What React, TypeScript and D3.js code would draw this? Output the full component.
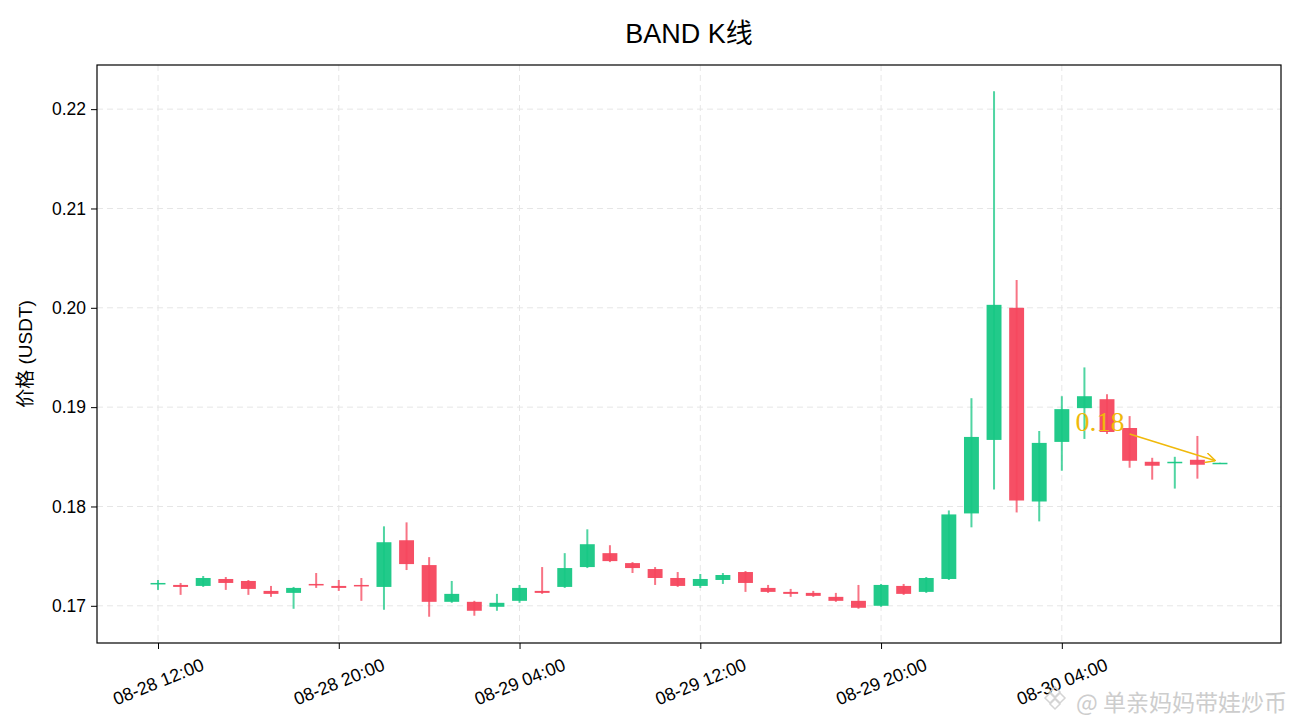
import React, { useRef, useEffect } from 'react';
import * as d3 from 'd3';

// hourly candles, first one at 08-28 12:00
const START = new Date(2024, 7, 28, 12, 0);
const opens = [
    0.1722, 0.1721, 0.1720, 0.1727, 0.1725, 0.1715, 0.1713, 0.1722, 0.1720, 0.1721,
    0.1719, 0.1766, 0.1741, 0.1704, 0.1704, 0.1699, 0.1705, 0.1715, 0.1719, 0.1739,
    0.1753, 0.1743, 0.1737, 0.1728, 0.1720, 0.1726, 0.1734, 0.1718, 0.1714, 0.1713,
    0.1709, 0.1705, 0.1700, 0.1720, 0.1714, 0.1727, 0.1793, 0.1867, 0.2000, 0.1805,
    0.1865, 0.1899, 0.1908, 0.1879, 0.1845, 0.1844, 0.1847, 0.1843,
];
const highs = [
    0.1726, 0.1723, 0.1730, 0.1729, 0.1726, 0.1720, 0.1719, 0.1733, 0.1726, 0.1728,
    0.1780, 0.1784, 0.1749, 0.1725, 0.1705, 0.1712, 0.1721, 0.1739, 0.1753, 0.1777,
    0.1761, 0.1744, 0.1739, 0.1734, 0.1732, 0.1733, 0.1735, 0.1721, 0.1717, 0.1715,
    0.1713, 0.1721, 0.1722, 0.1722, 0.1729, 0.1796, 0.1909, 0.2218, 0.2028, 0.1876,
    0.1911, 0.1940, 0.1913, 0.1891, 0.1849, 0.1850, 0.1871, 0.1844,
];
const lows = [
    0.1716, 0.1711, 0.1719, 0.1716, 0.1711, 0.1709, 0.1697, 0.1718, 0.1715, 0.1705,
    0.1696, 0.1736, 0.1689, 0.1703, 0.1690, 0.1695, 0.1703, 0.1712, 0.1718, 0.1738,
    0.1744, 0.1733, 0.1721, 0.1719, 0.1718, 0.1722, 0.1714, 0.1713, 0.1709, 0.1709,
    0.1704, 0.1697, 0.1699, 0.1711, 0.1713, 0.1726, 0.1779, 0.1817, 0.1794, 0.1785,
    0.1836, 0.1868, 0.1873, 0.1839, 0.1827, 0.1818, 0.1828, 0.1843,
];
const closes = [
    0.1723, 0.1719, 0.1728, 0.1723, 0.1717, 0.1712, 0.1718, 0.1721, 0.1718, 0.1720,
    0.1764, 0.1742, 0.1704, 0.1712, 0.1695, 0.1703, 0.1718, 0.1713, 0.1738, 0.1762,
    0.1745, 0.1738, 0.1728, 0.1720, 0.1727, 0.1731, 0.1723, 0.1714, 0.1712, 0.1710,
    0.1705, 0.1698, 0.1721, 0.1712, 0.1728, 0.1792, 0.1870, 0.2003, 0.1806, 0.1864,
    0.1898, 0.1911, 0.1875, 0.1846, 0.1841, 0.1845, 0.1842, 0.1844,
];
const yTicks = [0.17, 0.18, 0.19, 0.20, 0.21, 0.22];
const xTickHours = [0, 8, 16, 24, 32, 40]; // hours after START

// "0.18" annotation (hours from START, price)
const annText = { h: 40.6, v: 0.1876, label: '0.18' };
const annFrom = { h: 43.0, v: 0.1873 };
const annTo = { h: 46.8, v: 0.1846 };

const UP = '#16c784';
const DOWN = '#f6465d';
const ANN = '#f0b90b';
const FONT = '"Liberation Sans", "Noto Sans CJK SC", sans-serif';

const W = 1300;
const H = 728;

const App: React.FC = () => {
    const svgRef = useRef<SVGSVGElement>(null);

    useEffect(() => {
        if (!svgRef.current) return;
        const svg = d3.select(svgRef.current);
        svg.selectAll('*').remove();

        const margin = { top: 65, right: 19, bottom: 85, left: 97 };
        const iw = W - margin.left - margin.right;
        const ih = H - margin.top - margin.bottom;

        const hr = (h: number) => new Date(START.getTime() + h * 3600e3);
        const data = opens.map((o, i) => ({
            t: hr(i),
            o, h: highs[i], l: lows[i], c: closes[i],
        }));

        const x = d3.scaleTime()
            .domain([hr(-2.7), hr(data.length - 1 + 2.7)])
            .range([0, iw]);
        const lo = d3.min(lows)!, hi = d3.max(highs)!;
        const pad = (hi - lo) * 0.05;
        const y = d3.scaleLinear().domain([lo - pad, hi + pad]).range([ih, 0]);

        const g = svg.append('g').attr('transform', `translate(${margin.left},${margin.top})`);

        const xTicks = xTickHours.map(hr);

        // grid
        g.append('g').selectAll('line').data(yTicks).join('line')
            .attr('x1', 0).attr('x2', iw)
            .attr('y1', d => y(d)).attr('y2', d => y(d))
            .attr('stroke', '#e6e6e6').attr('stroke-dasharray', '6,4');
        g.append('g').selectAll('line').data(xTicks).join('line')
            .attr('y1', 0).attr('y2', ih)
            .attr('x1', d => x(d)).attr('x2', d => x(d))
            .attr('stroke', '#e6e6e6').attr('stroke-dasharray', '6,4');

        // candles
        const bw = (x(hr(1)) - x(hr(0))) * 0.66;
        const cg = g.append('g');
        cg.selectAll('line.wick').data(data).join('line')
            .attr('class', 'wick')
            .attr('x1', d => x(d.t)).attr('x2', d => x(d.t))
            .attr('y1', d => y(d.h)).attr('y2', d => y(d.l))
            .attr('stroke', d => d.c >= d.o ? UP : DOWN)
            .attr('stroke-width', 2)
            .attr('opacity', 0.75);
        cg.selectAll('rect').data(data).join('rect')
            .attr('x', d => x(d.t) - bw / 2)
            .attr('width', bw)
            .attr('y', d => y(Math.max(d.o, d.c)))
            .attr('height', d => Math.max(1.5, Math.abs(y(d.o) - y(d.c))))
            .attr('fill', d => d.c >= d.o ? UP : DOWN)
            .attr('opacity', 0.95);

        // annotation
        const defs = svg.append('defs');
        defs.append('marker')
            .attr('id', 'ann-head')
            .attr('viewBox', '0 0 10 10')
            .attr('refX', 10).attr('refY', 5)
            .attr('markerWidth', 10).attr('markerHeight', 10)
            .attr('markerUnits', 'userSpaceOnUse')
            .attr('orient', 'auto')
            .append('path')
            .attr('d', 'M0,0 L10,5 L0,10')
            .attr('fill', 'none').attr('stroke', ANN).attr('stroke-width', 1.6);
        g.append('line')
            .attr('x1', x(hr(annFrom.h))).attr('y1', y(annFrom.v))
            .attr('x2', x(hr(annTo.h))).attr('y2', y(annTo.v))
            .attr('stroke', ANN).attr('stroke-width', 1.6)
            .attr('marker-end', 'url(#ann-head)');
        g.append('text')
            .attr('x', x(hr(annText.h))).attr('y', y(annText.v))
            .attr('fill', ANN)
            .attr('font-family', '"Liberation Serif", "DejaVu Serif", serif')
            .attr('font-size', 28)
            .text(annText.label);

        // frame
        g.append('rect').attr('width', iw).attr('height', ih)
            .attr('fill', 'none').attr('stroke', '#000').attr('stroke-width', 1.2);

        // y axis
        const ya = g.append('g').call(d3.axisLeft(y).tickValues(yTicks).tickSize(6).tickPadding(5).tickFormat(d3.format('.2f')));
        ya.select('.domain').remove();
        ya.selectAll('text').attr('font-size', 17.5).attr('font-family', FONT).attr('fill', '#000');

        // x axis
        const xa = g.append('g').attr('transform', `translate(0,${ih})`)
            .call(d3.axisBottom(x).tickValues(xTicks).tickSize(6).tickFormat(d => d3.timeFormat('%m-%d %H:%M')(d as Date)));
        xa.select('.domain').remove();
        xa.selectAll('text')
            .attr('font-size', 18).attr('font-family', FONT).attr('fill', '#000')
            .attr('text-anchor', 'middle')
            .attr('dy', null).attr('y', null)
            .attr('dominant-baseline', 'central')
            .attr('transform', 'translate(0,39) rotate(-22)');

        // title and axis label
        svg.append('text')
            .attr('x', margin.left + iw / 2).attr('y', 43)
            .attr('text-anchor', 'middle')
            .attr('font-family', FONT).attr('font-size', 27)
            .text('BAND K线');
        svg.append('text')
            .attr('transform', `translate(32,${margin.top + ih / 2}) rotate(-90)`)
            .attr('text-anchor', 'middle')
            .attr('font-family', FONT).attr('font-size', 19)
            .text('价格 (USDT)');

        // watermark
        const wm = svg.append('g').attr('opacity', 0.9);
        wm.selectAll('path').data([[1050, 698], [1060, 698], [1055, 692], [1055, 704]]).join('path')
            .attr('d', d => `M${d[0]},${d[1] - 5} L${d[0] + 5},${d[1]} L${d[0]},${d[1] + 5} L${d[0] - 5},${d[1]} Z`)
            .attr('fill', 'none').attr('stroke', '#d0d0d0').attr('stroke-width', 1.5);
        wm.append('text')
            .attr('x', 1076).attr('y', 711)
            .attr('fill', '#c8c8c8')
            .attr('font-family', '"Noto Sans CJK SC", sans-serif')
            .attr('font-size', 23)
            .text('@ 单亲妈妈带娃炒币');
    }, []);

    return (
        <svg
            ref={svgRef}
            width={W}
            height={H}
            style={{ position: 'absolute', left: 0, top: 0, background: '#fff' }}
        />
    );
};

export default App;
